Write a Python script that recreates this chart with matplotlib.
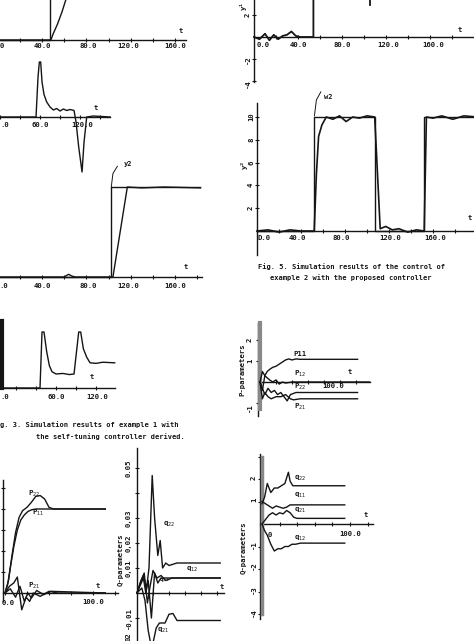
import matplotlib
matplotlib.use("Agg")
import matplotlib.pyplot as plt

W, H = 474, 641
INK = "#151515"
MONO = "DejaVu Sans Mono"

# ---- data ----
# Fig.3 top panel
a_ref_t = [0, 47.5, 47.5]
a_ref_v = [0, 0, 12]
a_out_t = [0, 48, 50, 54, 58, 62]
a_out_v = [0, 0, 1.5, 4.0, 7.0, 10.5]

# Fig.3 second panel
b_t = [0, 54, 57, 59, 61, 63, 66, 70, 75, 80, 85, 90, 95, 100, 105, 111, 114, 118, 123, 126, 130, 140, 165]
b_v = [0, 0, 8, 11, 11, 7, 4.5, 3, 2, 1.4, 1.7, 1.2, 1.6, 1.3, 1.5, 1.3, -1, -6, -11, -5, 0, 0.2, 0]

# Fig.3 third panel
c_ref_t = [0, 102, 102, 183]
c_ref_v = [0, 0, 10, 10]
c_out_t = [0, 60, 64, 67, 70, 104, 117, 130, 150, 183]
c_out_v = [0, 0, 0.3, 0.1, 0, 0, 10, 9.9, 10, 9.9]

# Fig.3 fourth panel
d_t = [-22, 36, 39, 42, 46, 50, 54, 60, 70, 80, 87, 94, 97, 101, 106, 111, 120, 130, 148]
d_v = [0, 0, 10, 10, 6.5, 4.0, 2.9, 2.5, 2.6, 2.4, 2.5, 10, 10, 7, 5.5, 4.5, 4.4, 4.6, 4.5]

# Fig.4 P-parameters (left)
ep11_t = [0, 3, 6, 10, 14, 18, 22, 26, 30, 35, 40, 60, 114]
ep11_v = [0, 0.1, 0.3, 0.55, 0.75, 0.87, 0.93, 0.97, 0.99, 1.0, 1.0, 1.0, 1.0]
ep22_t = [0, 4, 8, 12, 16, 20, 25, 30, 35, 40, 45, 50, 55, 60, 114]
ep22_v = [0, 0.15, 0.45, 0.72, 0.9, 0.98, 1.02, 1.08, 1.15, 1.16, 1.12, 1.02, 1.0, 1.0, 1.0]
ep21_t = [0, 5, 10, 14, 19, 24, 28, 32, 40, 50, 60, 114]
ep21_v = [0, 0.08, 0.12, 0.19, -0.2, -0.05, -0.1, 0.0, -0.04, 0.02, 0, 0]
ep12_t = [0, 6, 12, 17, 22, 26, 30, 36, 44, 52, 114]
ep12_v = [0, 0.05, -0.05, 0.08, -0.1, 0.0, -0.06, 0.03, -0.02, 0.02, 0]

# Fig.4 Q-parameters (middle)
fq22_t = [0, 4, 8, 12, 15, 19, 22, 26, 29, 32, 36, 40, 50, 104]
fq22_v = [0, 0.004, 0.007, 0.002, 0.01, 0.047, 0.03, 0.015, 0.021, 0.01, 0.012, 0.011, 0.012, 0.012]
fq12_t = [0, 4, 8, 11, 14, 18, 22, 26, 30, 40, 104]
fq12_v = [0, 0.003, 0.006, 0.0, 0.005, -0.01, 0.008, 0.004, 0.006, 0.006, 0.006]
fq11_t = [0, 5, 9, 13, 16, 20, 25, 30, 36, 44, 104]
fq11_v = [0, 0.005, 0.008, -0.004, 0.002, 0.009, 0.006, 0.007, 0.005, 0.006, 0.006]
fq21_t = [0, 6, 10, 14, 17, 20, 24, 28, 35, 40, 45, 50, 104]
fq21_v = [0, 0.002, -0.003, -0.015, -0.02, -0.02, -0.014, -0.012, -0.012, -0.0085, -0.0082, -0.011, -0.011]

# Fig.5 y1
g_t = [0, 5, 10, 14, 18, 22, 26, 30, 34, 38, 42, 46, 54, 54]
g_v = [0, -0.2, 0.3, -0.3, 0.2, -0.2, 0.1, 0.2, 0.5, 0.1, 0, 0, 0, 5]
g_tail_t = [105, 105]
g_tail_v = [2.9, 5]

# Fig.5 y2
h_ref_t = [0, 52, 52, 107, 107, 152, 152, 200]
h_ref_v = [0, 0, 10, 10, 0, 0, 10, 10]
h_out_t = [0, 10, 20, 30, 40, 50, 52, 54, 56, 59, 63, 69, 75, 81, 87, 93, 100, 107, 112, 117, 123, 129, 137, 145, 152, 154, 160, 168, 178, 188, 200]
h_out_v = [0, 0.1, -0.1, 0.1, 0, 0, 0, 5, 8.3, 9.3, 10, 9.8, 10.1, 9.6, 10, 9.9, 10.1, 10, 0.2, 0.4, 0.1, 0.2, -0.1, 0.1, 0, 10, 9.9, 10.1, 9.8, 10.1, 10]

# Fig.6 P-parameters
ip11_t = [0, 3, 6, 9, 12, 16, 20, 24, 28, 32, 36, 40, 45, 50, 122]
ip11_v = [0, 0.5, 0.3, 0.5, 0.6, 0.7, 0.75, 0.85, 0.95, 1.05, 1.1, 1.05, 1.1, 1.08, 1.08]
ip12_t = [0, 3, 6, 9, 12, 16, 20, 24, 28, 32, 40, 137]
ip12_v = [0, -0.4, 0.3, 0.2, 0.1, 0, 0.1, -0.1, 0, -0.05, 0, 0]
ip22_t = [0, 3, 6, 10, 14, 18, 22, 26, 30, 34, 38, 45, 122]
ip22_v = [0, -0.3, -0.6, -0.3, -0.5, -0.4, -0.6, -0.5, -0.7, -0.9, -0.6, -0.5, -0.5]
ip21_t = [0, 3, 6, 10, 14, 20, 26, 32, 38, 42, 50, 122]
ip21_v = [0, -0.8, -0.5, -0.7, -0.8, -0.7, -0.7, -0.6, -0.8, -0.85, -0.8, -0.8]

# Fig.6 Q-parameters
jq22_t = [0, 3, 6, 10, 14, 18, 22, 26, 30, 32, 35, 40, 94]
jq22_v = [0.9, 1.2, 1.8, 1.4, 1.6, 1.6, 1.7, 1.8, 2.3, 1.9, 1.7, 1.7, 1.7]
jq11_t = [0, 4, 8, 12, 16, 20, 24, 28, 32, 35, 40, 94]
jq11_v = [1.0, 0.9, 0.8, 0.7, 0.8, 0.75, 0.7, 0.75, 0.85, 0.85, 0.85, 0.85]
jq21_t = [0, 4, 8, 12, 16, 20, 24, 28, 32, 36, 40, 94]
jq21_v = [0, 0.2, 0.4, 0.5, 0.4, 0.5, 0.45, 0.6, 0.5, 0.3, 0.25, 0.25]
jq12_t = [0, 3, 6, 10, 14, 18, 22, 26, 30, 34, 38, 44, 94]
jq12_v = [0, -0.3, -0.5, -0.9, -1.2, -1.1, -1.1, -1.0, -1.0, -0.9, -0.9, -0.85, -0.85]

fig = plt.figure(figsize=(W / 100, H / 100), dpi=100)
fig.patch.set_facecolor("white")


def panel(a, b, c, d):
    # pixel x = a + b*t, pixel y = c - d*v
    ax = fig.add_axes([0, 0, 1, 1])
    ax.set_xlim((0 - a) / b, (W - a) / b)
    ax.set_ylim((c - H) / d, c / d)
    ax.axis("off")
    ax.patch.set_alpha(0)
    return ax


def txt(x, y, s, size=5.2, rot=0, ha="center"):
    fig.text(x / W, 1 - y / H, s, fontsize=size, family=MONO, weight="bold",
             rotation=rot, ha=ha, va="center", color=INK)


def taxis(ax, t0, t1, ticks):
    ax.plot([t0, t1], [0, 0], color=INK, lw=1.0)
    ax.plot(ticks, [0] * len(ticks), "|", color=INK, ms=2.5, mew=0.8)


def spine(ax, t, v0, v1, ticks):
    ax.plot([t, t], [v0, v1], color=INK, lw=1.0)
    ax.plot([t] * len(ticks), ticks, "_", color=INK, ms=2.5, mew=0.8)


def line(ax, t, v, lw=1.0):
    ax.plot(t, v, color=INK, lw=lw)


# Fig.3 panel A
ax = panel(-2.3, 1.108, 40, 4)
taxis(ax, 0, 170, [0, 20, 40, 60, 80, 100, 120, 140, 160])
line(ax, a_ref_t, a_ref_v)
line(ax, a_out_t, a_out_v)
for x, s in [(2, "0"), (42, "40.0"), (88, "80.0"), (128, "120.0"), (175, "160.0")]:
    txt(x, 46, s)
txt(181, 31, "t")

# panel B
ax = panel(0, 0.667, 117, 5)
taxis(ax, 0, 165, [0, 30, 60, 90, 120, 150])
line(ax, b_t, b_v)
for x, s in [(5, ".0"), (40, "60.0"), (82, "120.0")]:
    txt(x, 125, s)
txt(96, 108, "t")

# panel C
ax = panel(-2.3, 1.108, 277, 9)
taxis(ax, 0, 184, [0, 20, 40, 60, 80, 100, 120, 140, 160, 180])
line(ax, c_ref_t, c_ref_v)
line(ax, c_out_t, c_out_v)
ax.plot([102.5, 104, 108], [10, 11.5, 12.3], color=INK, lw=0.7)
txt(128, 164, "y2", size=5)
for x, s in [(4, ".0"), (42, "40.0"), (88, "80.0"), (128, "120.0"), (175, "160.0")]:
    txt(x, 286, s)
txt(186, 267, "t")

# panel D
ax = panel(16, 0.667, 388, 5.6)
taxis(ax, -24, 148, [0, 30, 60, 90, 120])
ax.plot([-21.5, -21.5], [0, 12], color=INK, lw=3)
line(ax, d_t, d_v)
for x, s in [(5, ".0"), (56, "60.0"), (97, "120.0")]:
    txt(x, 397, s)
txt(92, 377, "t")

txt(0, 425, "g. 3. Simulation results of example 1 with", size=5, ha="left")
txt(36, 437, "the self-tuning controller derived.", size=5, ha="left")

# Fig.4 P-parameters (left)
ax = panel(5, 0.88, 593, 84)
taxis(ax, -2, 128, [0, 25, 50, 75, 100, 125])
spine(ax, -2.3, -0.1, 1.35, [0.25, 0.5, 0.75, 1.0, 1.25])
line(ax, ep22_t, ep22_v)
line(ax, ep11_t, ep11_v)
line(ax, ep21_t, ep21_v)
line(ax, ep12_t, ep12_v)
txt(34, 494, r"P$_{22}$")
txt(38, 513, r"P$_{11}$")
txt(34, 586, r"P$_{21}$")
txt(8, 603, "0.0")
txt(93, 602, "100.0")
txt(98, 586, "t")

# Fig.4 Q-parameters (middle)
ax = panel(137, 0.8, 593, 2500)
taxis(ax, 0, 109, [20, 40, 60, 80, 100])
spine(ax, 0, -0.02, 0.058, [-0.02, -0.01, 0.01, 0.02, 0.03, 0.04, 0.05])
line(ax, fq22_t, fq22_v)
line(ax, fq12_t, fq12_v)
line(ax, fq11_t, fq11_v)
line(ax, fq21_t, fq21_v)
for y, s in [(468, "0.05"), (518, "0,03"), (543, "0,02"), (568, "0,01"), (618, "-0,01"), (637, "02")]:
    txt(129, y, s, rot=90)
txt(121, 560, "Q-parameters", rot=90)
txt(169, 524, r"q$_{22}$")
txt(192, 569, r"q$_{12}$")
txt(164, 580, r"q$_{11}$", size=4.5)
txt(163, 630, r"q$_{21}$")
txt(222, 587, "t")

# Fig.5 y1
ax = panel(254, 1.1, 37, 11)
taxis(ax, 0, 200, [0, 20, 40, 60, 80, 100, 120, 140, 160, 180])
spine(ax, 0, -4.1, 4, [-4, -2, 2])
line(ax, g_t, g_v, lw=1.3)
line(ax, g_tail_t, g_tail_v, lw=1.3)
for y, s in [(15, "2"), (60, "-2"), (84, "-4")]:
    txt(248, y, s, rot=90)
txt(243, 6, "y¹", rot=90)
for x, s in [(263, "0.0"), (298, "40.0"), (342, "80.0"), (388, "120.0"), (433, "160.0")]:
    txt(x, 45, s)
txt(460, 30, "t")

# Fig.5 y2
ax = panel(257, 1.1, 231, 11.4)
taxis(ax, 0, 200, [0, 20, 40, 60, 80, 100, 120, 140, 160, 180])
spine(ax, 0, -2.1, 11.2, [2, 4, 6, 8, 10])
line(ax, h_ref_t, h_ref_v)
line(ax, h_out_t, h_out_v, lw=1.2)
ax.plot([52.2, 54, 58], [10.1, 11.5, 12.2], color=INK, lw=0.7)
txt(328, 97, "w2", size=5)
for y, s in [(117, "10"), (140, "8"), (163, "6"), (185, "4"), (208, "2")]:
    txt(251, y, s, rot=90)
txt(244, 165, "y²", rot=90)
for x, s in [(264, "D.0"), (297, "40.0"), (341, "80.0"), (390, "120.0"), (435, "160.0")]:
    txt(x, 238, s)
txt(470, 218, "t")
txt(258, 267, "Fig. 5. Simulation results of the control of", size=5, ha="left")
txt(270, 278, "example 2 with the proposed controller", size=5, ha="left")

# Fig.6 P-parameters
ax = panel(260, 0.8, 382, 21)
taxis(ax, 0, 137, [20, 40, 60, 80, 100, 120])
spine(ax, -2.5, -1.6, 2.8, [-1, 1, 2])
ax.plot([0.5, 0.5], [-1.3, 2.8], color="#888888", lw=3)
line(ax, ip11_t, ip11_v)
line(ax, ip12_t, ip12_v)
line(ax, ip22_t, ip22_v)
line(ax, ip21_t, ip21_v)
for y, s in [(340, "2"), (361, "1"), (408, "-1")]:
    txt(250, y, s, rot=90)
txt(242, 370, "P-parameters", rot=90)
txt(300, 354, "P11")
txt(300, 374, r"P$_{12}$")
txt(300, 387, r"P$_{22}$")
txt(300, 407, r"P$_{21}$")
txt(333, 386, "100.0")
txt(350, 372, "t")

# Fig.6 Q-parameters
ax = panel(262, 0.88, 524, 22.5)
taxis(ax, -2, 126, [20, 40, 60, 80, 100, 120])
spine(ax, -2.3, -4.2, 3.1, [-4, -3, -2, -1, 1, 2, 3])
ax.plot([0.5, 0.5], [-4, 3], color="#888888", lw=2.5)
line(ax, jq22_t, jq22_v)
line(ax, jq11_t, jq11_v)
line(ax, jq21_t, jq21_v)
line(ax, jq12_t, jq12_v)
for y, s in [(478, "2"), (500, "1"), (545, "-1"), (566, "-2"), (590, "-3"), (613, "-4")]:
    txt(254, y, s, rot=90)
txt(244, 548, "Q-parameters", rot=90)
txt(300, 478, r"q$_{22}$")
txt(300, 495, r"q$_{11}$")
txt(300, 510, r"q$_{21}$")
txt(300, 538, r"q$_{12}$")
txt(270, 535, "0")
txt(350, 534, "100.0")
txt(366, 515, "t")

fig.savefig("out.png", dpi=100, facecolor="white")
